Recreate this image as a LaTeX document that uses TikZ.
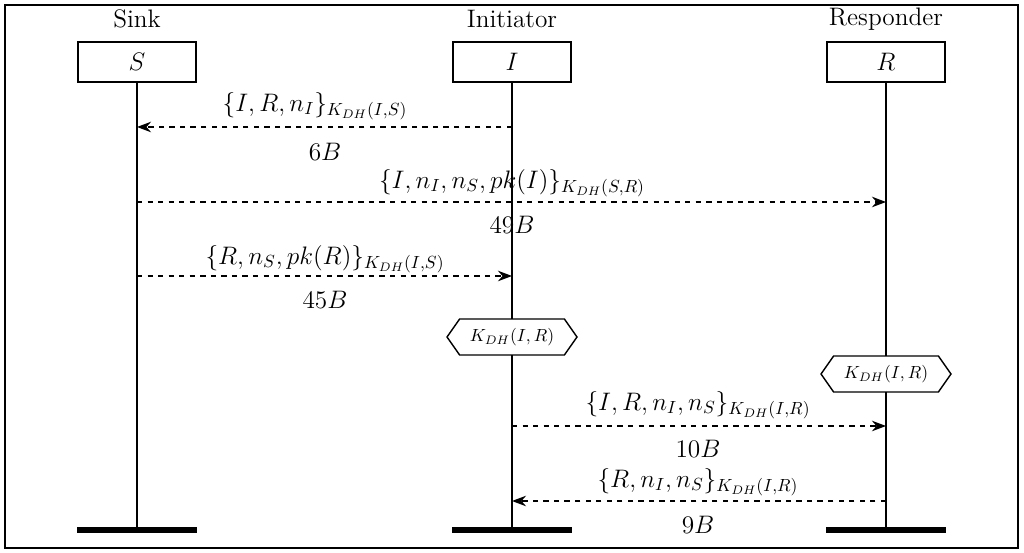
\documentclass[tikz,border=0pt]{standalone}
\usetikzlibrary{shapes.symbols,arrows.meta}
\begin{document}
\begin{tikzpicture}[x=0.02cm,y=-0.02cm,
  hdr/.style={draw,thick,minimum width=2.36cm,minimum height=0.8cm,inner sep=0pt,font=\Large},
  ttl/.style={font=\Large},
  life/.style={thick},
  bar/.style={line width=3pt},
  msg/.style={thick,dashed,-{Stealth[length=8pt,width=6pt]}},
  lbl/.style={font=\Large},
  hexa/.style={draw,thick,signal,signal to=west and east,signal pointer angle=110,minimum width=2.6cm,minimum height=0.72cm,inner sep=1pt,font=\normalsize}]
\useasboundingbox (0,0) rectangle (1024,553);
\draw[thick] (5,5) rectangle (1018,548);
\foreach \n/\x/\t/\m in {S/137/Sink/S, I/512/Initiator/I, R/886/Responder/R}{
  \node[ttl] (t\n) at (\x,19) {\t};
  \node[hdr] (h\n) at (\x,62) {$\m$};
  \coordinate (b\n) at (\x,530);
  \draw[life] (h\n.south) -- (b\n);
  \draw[bar] ([xshift=-1.2cm]b\n) -- ([xshift=1.2cm]b\n);
}
\coordinate (s1) at (512,127); \coordinate (e1) at (137,127);
\draw[msg] (s1) -- (e1);
\node[lbl] (l1) at (315,106) {$\{I,R,n_I\}_{K_{DH}(I,S)}$};
\node[lbl] (c1) at (325,152) {$6B$};
\coordinate (s2) at (137,202); \coordinate (e2) at (886,202);
\draw[msg] (s2) -- (e2);
\node[lbl] (l2) at (512,183) {$\{I,n_I,n_S,pk(I)\}_{K_{DH}(S,R)}$};
\node[lbl] (c2) at (512,225) {$49B$};
\coordinate (s3) at (137,276); \coordinate (e3) at (512,276);
\draw[msg] (s3) -- (e3);
\node[lbl] (l3) at (325,259) {$\{R,n_S,pk(R)\}_{K_{DH}(I,S)}$};
\node[lbl] (c3) at (325,300) {$45B$};
\node[hexa,fill=white] (k1) at (512,337) {$K_{DH}(I,R)$};
\node[hexa,fill=white] (k2) at (886,374) {$K_{DH}(I,R)$};
\coordinate (s4) at (512,426); \coordinate (e4) at (886,426);
\draw[msg] (s4) -- (e4);
\node[lbl] (l4) at (698,405) {$\{I,R,n_I,n_S\}_{K_{DH}(I,R)}$};
\node[lbl] (c4) at (698,449) {$10B$};
\coordinate (s5) at (886,501); \coordinate (e5) at (512,501);
\draw[msg] (s5) -- (e5);
\node[lbl] (l5) at (698,482) {$\{R,n_I,n_S\}_{K_{DH}(I,R)}$};
\node[lbl] (c5) at (698,525) {$9B$};
\end{tikzpicture}
\end{document}
